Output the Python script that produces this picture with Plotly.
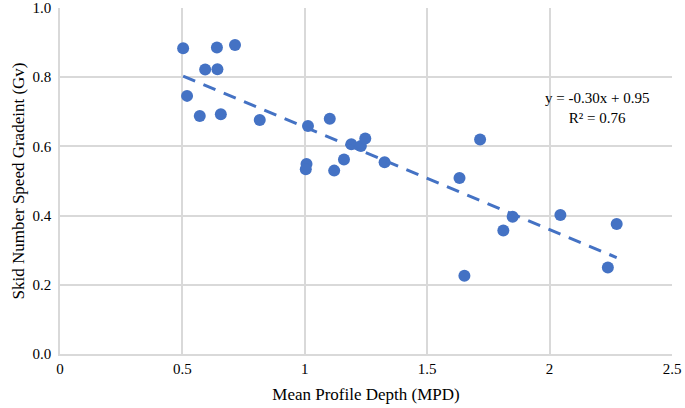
import numpy as np
import plotly.graph_objects as go

mpd = [0.503, 0.641, 0.715, 0.593, 0.643, 0.519, 0.571, 0.657, 0.816,
       1.013, 1.102, 1.190, 1.229, 1.247, 1.007, 1.004, 1.160, 1.120, 1.326,
       1.716, 1.632, 1.652, 1.849, 1.811, 2.044, 2.274, 2.238]
gv = [0.884, 0.886, 0.893, 0.822, 0.823, 0.746, 0.688, 0.693, 0.676,
      0.659, 0.680, 0.606, 0.601, 0.623, 0.549, 0.534, 0.562, 0.530, 0.554,
      0.620, 0.509, 0.226, 0.397, 0.357, 0.402, 0.376, 0.250]
eq_text = "y = -0.30x + 0.95<br>R² = 0.76"

x = np.array(mpd)
y = np.array(gv)
slope, intercept = np.polyfit(x, y, 1)
xl = np.array([x.min(), x.max()])
yl = slope * xl + intercept

font = "Times New Roman, Liberation Serif, DejaVu Serif, serif"
blue = "#4472C4"
grid = "#d9d9d9"

fig = go.Figure()
fig.add_trace(go.Scatter(x=mpd, y=gv, mode="markers",
                         marker=dict(color=blue, size=12), showlegend=False))
fig.add_trace(go.Scatter(x=xl, y=yl, mode="lines",
                         line=dict(color=blue, width=3, dash="13px,9px"), showlegend=False))
fig.add_annotation(x=2.195, y=0.71, xref="x", yref="y", text=eq_text, showarrow=False,
                   align="center", font=dict(family=font, size=15, color="#000"))

fig.update_layout(
    width=685, height=408,
    margin=dict(l=60, r=13, t=8, b=54),
    plot_bgcolor="white", paper_bgcolor="white",
    font=dict(family=font, size=15, color="#000"),
    xaxis=dict(range=[0, 2.5], tickvals=[0, 0.5, 1, 1.5, 2, 2.5],
               ticktext=["0", "0.5", "1", "1.5", "2", "2.5"], automargin=False,
               showgrid=True, gridcolor=grid, gridwidth=1.5,
               showline=True, linecolor=grid, linewidth=1.5, zeroline=False,
               ticks="", title=dict(text="Mean Profile Depth (MPD)", font=dict(size=17), standoff=12)),
    yaxis=dict(range=[0, 1.0], dtick=0.2, tickformat=".1f", automargin=False,
               showgrid=True, gridcolor=grid, gridwidth=1.5,
               showline=True, linecolor=grid, linewidth=1.5, zeroline=False,
               ticks="", ticklabelstandoff=4,
               title=dict(text="Skid Number Speed Gradeint (Gv)", font=dict(size=17), standoff=4)),
)
fig.write_html("out.html", config={"displayModeBar": False},
               post_script="document.body.style.margin='0';")
